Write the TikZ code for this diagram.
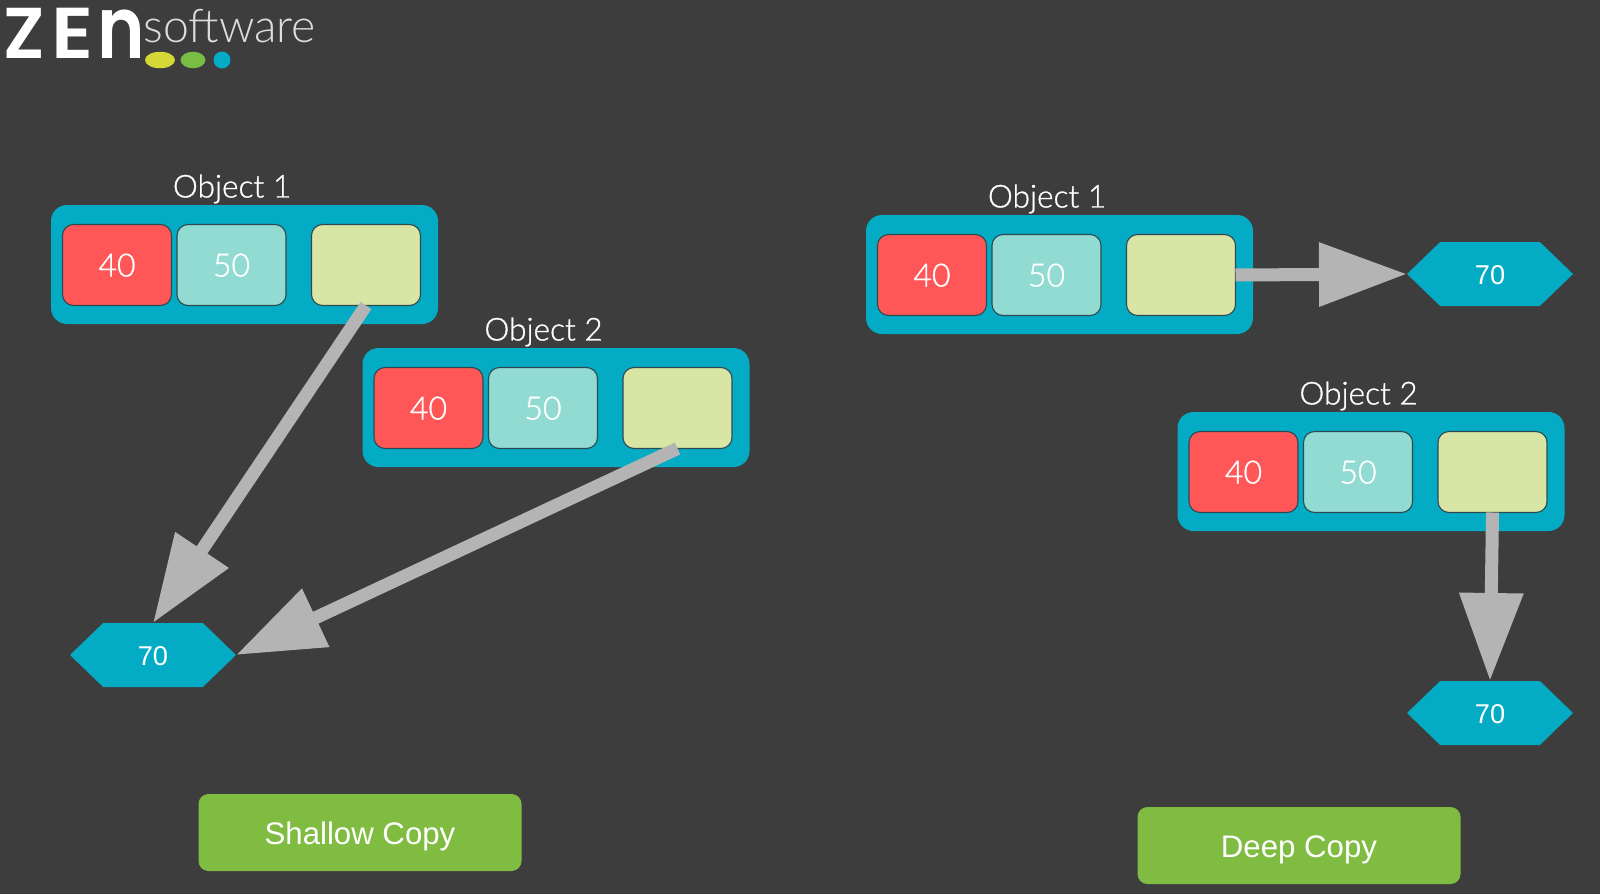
\documentclass[tikz,border=0pt]{standalone}
\usepackage{fontspec}
\setmainfont{Lato}
\newfontfamily\lightf{Lato Light}
\newfontfamily\midf[FakeBold=1]{Lato Light}
\newfontfamily\arialf{Liberation Sans}
\newfontfamily\poppf{Poppins SemiBold}
\usetikzlibrary{arrows.meta,shapes.symbols,shapes.geometric}
\definecolor{bgc}{HTML}{3D3D3D}
\definecolor{panelc}{HTML}{04ABC4}
\definecolor{redc}{HTML}{FF5757}
\definecolor{tealc}{HTML}{92DBD2}
\definecolor{yelc}{HTML}{D9E5A4}
\definecolor{edgec}{HTML}{2E4A4E}
\definecolor{arrowc}{HTML}{B4B4B4}
\definecolor{btnc}{HTML}{7FBC41}
\definecolor{dota}{HTML}{D3D835}
\definecolor{dotb}{HTML}{7ABD43}
\definecolor{logoc}{HTML}{DDDDDD}
\tikzset{
  panelbox/.style={fill=panelc,rounded corners=8pt,minimum width=193.5pt,minimum height=59.5pt,inner sep=0pt,outer sep=0pt},
  cellbox/.style={draw=edgec,line width=.55pt,rounded corners=5.5pt,minimum width=54.5pt,minimum height=40.5pt,inner sep=0pt,outer sep=0pt,text=white,text height=11.5pt,text depth=0pt,font=\midf\fontsize{16}{18}\selectfont},
  objlabel/.style={text=white,text depth=0pt,font=\midf\fontsize{15.8}{18}\selectfont,inner sep=0pt},
  hexbox/.style={shape=signal,signal to=east and west,signal pointer angle=88,fill=panelc,text=white,text height=10pt,text depth=0pt,minimum width=83pt,minimum height=32pt,inner sep=0pt,outer sep=0pt,font=\arialf\fontsize{13.6}{16}\selectfont},
  link/.style={draw=arrowc,line width=6.5pt,-{Triangle[length=44pt,width=30.5pt,fill=arrowc]}},
  btnbox/.style={fill=btnc,rounded corners=5pt,minimum width=161.5pt,minimum height=38.5pt,inner sep=0pt,text=white,text height=11.8pt,text depth=0pt,font=\arialf\fontsize{15.6}{18}\selectfont},
}
\newcommand{\objgroup}[4]{%
  \begin{scope}[shift={(#1,#2)}]
    \node[objlabel] (#3lab) at (232,186) {#4};
    \node[panelbox] (#3pan) at (244.5,264.5) {};
    \node[cellbox,fill=redc] (#3a) at (117,265) {40};
    \node[cellbox,fill=tealc] (#3b) at (231.5,265) {50};
    \node[cellbox,fill=yelc] (#3c) at (366,265) {};
  \end{scope}}
\begin{document}
\begin{tikzpicture}[x=.5pt,y=-.5pt]
\useasboundingbox (0,0) rectangle (1600,894);
\fill[bgc] (0,0) rectangle (1600,894);
% logo
\node[anchor=base west,inner sep=0pt,text=white,font=\poppf\fontsize{36}{40}\selectfont] (logoz) at (3,58) {Z\hspace{3.5pt}\scalebox{1.1}[1]{E}\hspace{1.5pt}\scalebox{1}[1.2]{n}};
\node[anchor=base west,inner sep=0pt,text=logoc,font=\lightf\fontsize{23.2}{26}\selectfont] (logos) at (143,42) {software};
\node[ellipse,fill=dota,minimum width=30pt,minimum height=16.5pt,inner sep=0pt,scale=.5] (dot1) at (160,60) {};
\node[ellipse,fill=dotb,minimum width=25pt,minimum height=16.5pt,inner sep=0pt,scale=.5] (dot2) at (193,60) {};
\node[ellipse,fill=panelc,minimum width=17pt,minimum height=17pt,inner sep=0pt,scale=.5] (dot3) at (222,60) {};
% groups
\objgroup{0}{0}{s}{Object 1}
\objgroup{311.5}{143}{t}{Object 2}
\objgroup{815}{10}{d}{Object 1}
\objgroup{1126.5}{207}{e}{Object 2}
\node[hexbox] (hs) at (153,655) {70};
\node[hexbox] (hd) at (1490,274) {70};
\node[hexbox] (he) at (1490,713) {70};
\draw[link] (sc.south) -- (hs.north);
\draw[link] (tc.south) -- (hs.east);
\draw[link] (dc.east) -- (hd.west);
\draw[link] (ec.south) -- (he.north);
\node[btnbox] (b1) at (360,832.5) {Shallow Copy};
\node[btnbox] (b2) at (1299,845.5) {Deep Copy};
\end{tikzpicture}
\end{document}
